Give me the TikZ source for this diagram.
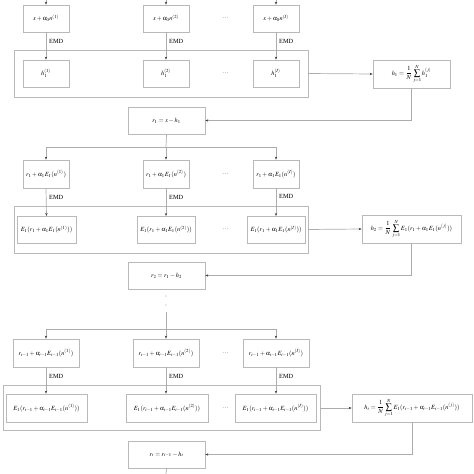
\documentclass[tikz,border=0pt]{standalone}
\usepackage{amsmath}
\usepackage{mathptmx}
\usepackage{fontspec}
\setmainfont{Liberation Serif}
\usetikzlibrary{arrows.meta}
\tikzset{
  bx/.style={draw=gray!55, line width=0.7pt, fill=white, inner sep=0pt, minimum height=27pt, font=\fontsize{6.3}{7}\selectfont},
  frm/.style={draw=gray!55, line width=0.7pt},
  ln/.style={draw=gray!65, line width=0.7pt},
  ar/.style={ln, -{Stealth[length=3pt,width=2.4pt,color=black!75]}},
  lbl/.style={font=\fontsize{6.3}{7}\selectfont, anchor=west, inner sep=0pt},
  dts/.style={font=\fontsize{6.3}{7}\selectfont, inner sep=0pt}
}
\begin{document}
\begin{tikzpicture}[x=1pt,y=-1pt]
\useasboundingbox (0,0) rectangle (474,474);
% ---------- stage 1
\coordinate (t1) at (46,0);
\coordinate (t2) at (166,0);
\coordinate (t3) at (276,0);
\node[bx, minimum width=46pt] (a1) at (46,18.5) {$x+\alpha_0 n^{(1)}$};
\node[bx, minimum width=46pt] (a2) at (166,18.5) {$x+\alpha_0 n^{(2)}$};
\node[bx, minimum width=46pt] (a3) at (276,18.5) {$x+\alpha_0 n^{(I)}$};
\node[dts] (d1) at (226,18) {$\cdots$};
\draw[frm] (14,50) rectangle (308,97);
\coordinate (f1e) at (308,73.5);
\node[bx, minimum width=46pt] (b1) at (46,73.5) {$h_1^{(1)}$};
\node[bx, minimum width=46pt] (b2) at (166,73.5) {$h_1^{(2)}$};
\node[bx, minimum width=46pt] (b3) at (276,73.5) {$h_1^{(I)}$};
\node[dts] (d2) at (226,73) {$\cdots$};
\node[bx, minimum width=77pt, minimum height=28pt] (h1) at (411.5,74) {$h_1=\dfrac{1}{N}\displaystyle\sum_{j=1}^{N} h_1^{(j)}$};
\node[bx, minimum width=77pt] (r1) at (166.5,120.5) {$r_1=x-h_1$};
\foreach \i in {1,2,3}{
  \draw[ar] (t\i) -- (a\i.north);
  \draw[ar] (a\i.south) -- (b\i.north);
}
\node[lbl] (e1) at (49,41) {EMD};
\node[lbl] (e2) at (169,41) {EMD};
\node[lbl] (e3) at (279,41) {EMD};
\draw[ar] (f1e) -- (h1.west);
\draw[ar] (h1.south) |- (r1.east);
% ---------- stage 2
\coordinate (s1) at (166,147);
\node[bx, minimum width=46pt, minimum height=28pt] (c1) at (46,174) {$r_1+\alpha_1 E_1(n^{(1)})$};
\node[bx, minimum width=46pt, minimum height=28pt] (c2) at (166,174) {$r_1+\alpha_1 E_1(n^{(2)})$};
\node[bx, minimum width=46pt, minimum height=28pt] (c3) at (276,174) {$r_1+\alpha_1 E_1(n^{(I)})$};
\node[dts] (d3) at (226,174) {$\cdots$};
\draw[ln] (r1.south) -- (s1);
\draw[ln] (c1.north |- s1) -- (c3.north |- s1);
\foreach \i in {1,2,3}{ \draw[ar] (c\i.north |- s1) -- (c\i.north); }
\draw[frm] (14,206) rectangle (308,253);
\coordinate (f2e) at (308,229.5);
\node[bx, minimum width=59pt] (g1) at (46.5,229.5) {$E_1(r_1+\alpha_1 E_1(n^{(1)}))$};
\node[bx, minimum width=58pt] (g2) at (166,229.5) {$E_1(r_1+\alpha_1 E_1(n^{(2)}))$};
\node[bx, minimum width=58pt] (g3) at (276,229.5) {$E_1(r_1+\alpha_1 E_1(n^{(I)}))$};
\node[dts] (d4) at (226,229) {$\cdots$};
\foreach \i in {1,2,3}{ \draw[ar] (c\i.south) -- (g\i.north |- 0,216); }
\node[lbl] (e4) at (49,197) {EMD};
\node[lbl] (e5) at (169,197) {EMD};
\node[lbl] (e6) at (279,196) {EMD};
\node[bx, minimum width=99pt, minimum height=28pt] (h2) at (411.5,229) {$h_2=\dfrac{1}{N}\displaystyle\sum_{j=1}^{N} E_1(r_1+\alpha_1 E_1(n^{(j)}))$};
\draw[ar] (f2e) -- (h2.west);
\node[bx, minimum width=77pt] (r2) at (166.5,275.5) {$r_2=r_1-h_2$};
\draw[ar] (h2.south) |- (r2.east);
% ---------- dots
\fill[gray!70] (166,296) circle (0.7pt) (166,305) circle (0.7pt);
\coordinate (v1) at (166,312);
\coordinate (s2) at (166,329);
\node[bx, minimum width=66pt, minimum height=28pt] (k1) at (46,353) {$r_{i-1}+\alpha_{i-1} E_{i-1}(n^{(1)})$};
\node[bx, minimum width=66pt, minimum height=28pt] (k2) at (166,353) {$r_{i-1}+\alpha_{i-1} E_{i-1}(n^{(2)})$};
\node[bx, minimum width=66pt, minimum height=28pt] (k3) at (276,353) {$r_{i-1}+\alpha_{i-1} E_{i-1}(n^{(I)})$};
\node[dts] (d5) at (226,353) {$\cdots$};
\draw[ln] (v1) -- (s2);
\draw[ln] (k1.north |- s2) -- (k3.north |- s2);
\foreach \i in {1,2,3}{ \draw[ar] (k\i.north |- s2) -- (k\i.north); }
\draw[frm] (3,385) rectangle (320,430);
\coordinate (f3e) at (320,408);
\node[bx, minimum width=81pt, minimum height=28pt] (m1) at (46.5,408) {$E_1(r_{i-1}+\alpha_{i-1} E_{i-1}(n^{(1)}))$};
\node[bx, minimum width=82pt, minimum height=28pt] (m2) at (167,408) {$E_1(r_{i-1}+\alpha_{i-1} E_{i-1}(n^{(2)}))$};
\node[bx, minimum width=81pt, minimum height=28pt] (m3) at (275.5,408) {$E_1(r_{i-1}+\alpha_{i-1} E_{i-1}(n^{(I)}))$};
\node[dts] (d6) at (226,408) {$\cdots$};
\foreach \i in {1,2,3}{ \draw[ar] (k\i.south) -- (k\i.south |- m\i.north); }
\node[lbl] (e7) at (49,376) {EMD};
\node[lbl] (e8) at (169,376) {EMD};
\node[lbl] (e9) at (279,376) {EMD};
\node[bx, minimum width=120pt, minimum height=28pt] (hi) at (412,408) {$h_i=\dfrac{1}{N}\displaystyle\sum_{j=1}^{N} E_1(r_{i-1}+\alpha_{i-1} E_{i-1}(n^{(j)}))$};
\draw[ar] (f3e) -- (hi.west);
\node[bx, minimum width=77pt] (ri) at (166.5,454.5) {$r_i=r_{i-1}-h_i$};
\draw[ar] (hi.south) |- (ri.east);
\coordinate (bot) at (166,474);
\draw[ln] (ri.south) -- (bot);
\end{tikzpicture}
\end{document}
